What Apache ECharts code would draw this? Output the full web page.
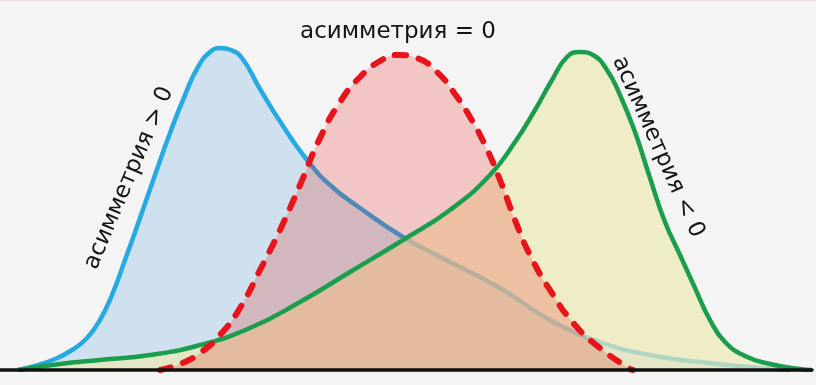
<!DOCTYPE html>
<html>
<head>
<meta charset="utf-8">
<script src="https://cdn.jsdelivr.net/npm/echarts@6/dist/echarts.min.js"></script>
<style>
html,body{margin:0;padding:0;background:#f4f4f4;}
#c{width:816px;height:385px;}
</style>
</head>
<body>
<div id="c"></div>
<script>
// Curve values: horizontal position and height above the baseline
const blueX = [18,35,55,72,87,100,112,125,140,155,170,185,198,210,220,231,242,260,283,307,330,360,403,450,500,550,600,650,700,750,790];
const blueY = [0,4,11,20,32,50,75,110,152,195,237,275,303,318,322,320,312,281,244,210,185,162,133,108,82,50,28,15,8,3,0];

const redX = [160,180,200,220,240,260,280,300,320,340,360,380,398,417,437,455,470,485,500,515,530,550,575,600,630,633];
const redY = [0,6,17,35,62,100,140,185,232,268,293,309,315,312,298,276,253,225,190,150,115,80,45,22,1,0];

const greenX = [18,60,100,150,200,250,300,350,403,450,490,515,535,552,567,580,593,607,620,635,650,665,680,695,710,725,745,770,800,812];
const greenY = [0,6,10,15,25,42,68,98,130,160,195,228,260,290,313,318,315,300,275,238,192,148,115,82,50,28,14,6,1,0];

const labelTop = 'асимметрия = 0';
const labelLeft = 'асимметрия > 0';
const labelRight = 'асимметрия < 0';

function pairs(xs, ys){ return xs.map((x,i)=>[x, ys[i]]); }

const chart = echarts.init(document.getElementById('c'), null, {renderer:'canvas'});
const sm = 0.5;
const txtStyle = (t)=>({text:t, x:0, y:0, fill:'#141414', font:'23px "DejaVu Sans"', textAlign:'center', textVerticalAlign:'middle'});
const base = {type:'line',smooth:sm,symbol:'none'};

chart.setOption({
  backgroundColor:'#f4f4f4',
  animation:false,
  grid:{left:0,right:4,top:0,bottom:15},
  xAxis:{type:'value',min:0,max:812,z:20,axisLine:{show:true,onZero:false,lineStyle:{color:'#111',width:3.5}},axisTick:{show:false},axisLabel:{show:false},splitLine:{show:false}},
  yAxis:{type:'value',min:0,max:370,axisLine:{show:false},axisTick:{show:false},axisLabel:{show:false},splitLine:{show:false}},
  series:[
    Object.assign({},base,{data:pairs(blueX,blueY),lineStyle:{width:0},areaStyle:{color:'#cfe1ee',opacity:1},z:1}),
    Object.assign({},base,{data:pairs(blueX,blueY),lineStyle:{color:'#27a9e1',width:4.5},z:2}),
    Object.assign({},base,{data:pairs(greenX,greenY),lineStyle:{width:0},areaStyle:{color:'#ebeab5',opacity:0.7},z:3}),
    Object.assign({},base,{data:pairs(redX,redY),lineStyle:{width:0},areaStyle:{color:'#e80e04',opacity:0.2},z:4}),
    Object.assign({},base,{data:pairs(greenX,greenY),lineStyle:{color:'#1a9e4e',width:4.5},z:5}),
    Object.assign({},base,{data:pairs(redX,redY),lineStyle:{color:'#e8141b',width:6,type:[11,13],cap:'round'},z:6})
  ],
  graphic:[
    {type:'rect',shape:{x:0,y:0,width:816,height:1},style:{fill:'#e8dddd'},z:100},
    {type:'text',x:398,y:32,style:txtStyle(labelTop),z:100},
    {type:'text',x:129,y:178,rotation:67*Math.PI/180,style:txtStyle(labelLeft),z:100},
    {type:'text',x:658,y:147,rotation:-66*Math.PI/180,style:txtStyle(labelRight),z:100}
  ]
});
</script>
</body>
</html>
